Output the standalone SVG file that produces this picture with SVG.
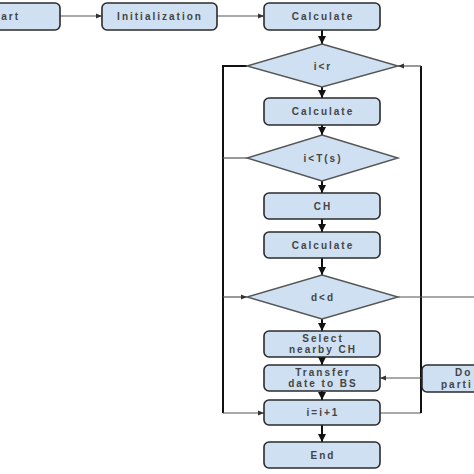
<svg xmlns="http://www.w3.org/2000/svg" width="474" height="474" viewBox="0 0 474 474">
<defs>
<style>
.box{fill:#cfe0f2;stroke:#2b2b2b;stroke-width:1.6}
.dia{fill:#cfe0f2;stroke:#555;stroke-width:1.4}
.t{font-family:"Liberation Sans",Arial,sans-serif;font-size:10px;font-weight:bold;fill:#444;letter-spacing:2px;text-anchor:middle}
.c{fill:none;stroke:#111;stroke-width:2}
.g{fill:none;stroke:#555;stroke-width:1.2}
</style>
<marker id="a" viewBox="0 0 10 10" refX="10" refY="5" markerWidth="5" markerHeight="5" orient="auto" markerUnits="userSpaceOnUse"><path d="M0,0L10,5L0,10z" fill="#111"/></marker>
<marker id="ag" viewBox="0 0 10 10" refX="10" refY="5" markerWidth="9" markerHeight="6" orient="auto" markerUnits="userSpaceOnUse"><path d="M0,1L10,5L0,9z" fill="#333"/></marker>
<marker id="ad" viewBox="0 0 10 10" refX="10" refY="5" markerWidth="8" markerHeight="8" orient="auto" markerUnits="userSpaceOnUse"><path d="M0,0L10,5L0,10z" fill="#111"/></marker>
</defs>
<rect width="474" height="474" fill="#fff"/>
<g id="connectors">
<path class="g" d="M60,16H102" marker-end="url(#ag)"/>
<path class="g" d="M217,16H264" marker-end="url(#ag)"/>
<path class="c" d="M322,30V44" marker-end="url(#ad)"/>
<path class="c" d="M322,87V98" marker-end="url(#ad)"/>
<path class="c" d="M322,125V135" marker-end="url(#ad)"/>
<path class="c" d="M322,181V193" marker-end="url(#ad)"/>
<path class="c" d="M322,219V232" marker-end="url(#ad)"/>
<path class="c" d="M322,258V275" marker-end="url(#ad)"/>
<path class="c" d="M322,319V331" marker-end="url(#ad)"/>
<path class="c" d="M322,357V365" marker-end="url(#ad)"/>
<path class="c" d="M322,391V400" marker-end="url(#ad)"/>
<path class="c" d="M322,425V442" marker-end="url(#ad)"/>
<path class="c" d="M247,66H223V413"/>
<path class="g" d="M223,413H264" marker-end="url(#ag)"/>
<path class="g" d="M247,158H223"/>
<path class="g" d="M223,297H247" marker-end="url(#ag)"/>
<path class="g" d="M380,413H421"/>
<path class="c" d="M421,413V66"/>
<path class="g" d="M421,66H398" marker-end="url(#ag)"/>
<path class="g" d="M398,297H474"/>
<path class="g" d="M422,378H380" marker-end="url(#ag)"/>
</g>
<g id="start"><rect class="box" x="-50" y="3" width="110" height="27" rx="5"/><text class="t" x="20" y="20" style="text-anchor:end">Start</text></g>
<g id="init"><rect class="box" x="102" y="3" width="115" height="27" rx="5"/><text class="t" x="160" y="20">Initialization</text></g>
<g id="calc1"><rect class="box" x="264" y="3" width="116" height="27" rx="5"/><text class="t" x="323" y="20">Calculate</text></g>
<g id="d1"><path class="dia" d="M322,44L398,66L322,87L247,66z"/><text class="t" x="323" y="70">i&lt;r</text></g>
<g id="calc2"><rect class="box" x="264" y="98" width="116" height="27" rx="5"/><text class="t" x="323" y="115">Calculate</text></g>
<g id="d2"><path class="dia" d="M322,135L398,158L322,181L247,158z"/><text class="t" x="323" y="162">i&lt;T(s)</text></g>
<g id="ch"><rect class="box" x="264" y="193" width="116" height="26" rx="5"/><text class="t" x="323" y="210">CH</text></g>
<g id="calc3"><rect class="box" x="264" y="232" width="116" height="26" rx="5"/><text class="t" x="323" y="249">Calculate</text></g>
<g id="d3"><path class="dia" d="M322,275L398,297L322,319L247,297z"/><text class="t" x="323" y="301">d&lt;d</text></g>
<g id="select"><rect class="box" x="264" y="331" width="116" height="26" rx="5"/><text class="t" x="323" y="342">Select</text><text class="t" x="323" y="353">nearby CH</text></g>
<g id="transfer"><rect class="box" x="264" y="365" width="116" height="26" rx="5"/><text class="t" x="323" y="376">Transfer</text><text class="t" x="323" y="387">date to BS</text></g>
<g id="inc"><rect class="box" x="264" y="400" width="116" height="25" rx="5"/><text class="t" x="323" y="416">i=i+1</text></g>
<g id="end"><rect class="box" x="264" y="442" width="116" height="26" rx="5"/><text class="t" x="323" y="459">End</text></g>
<g id="do"><rect class="box" x="422" y="365" width="90" height="27" rx="5"/><text class="t" x="455" y="376" style="text-anchor:start">Do</text><text class="t" x="441" y="388" style="text-anchor:start">parti</text></g>
</svg>
